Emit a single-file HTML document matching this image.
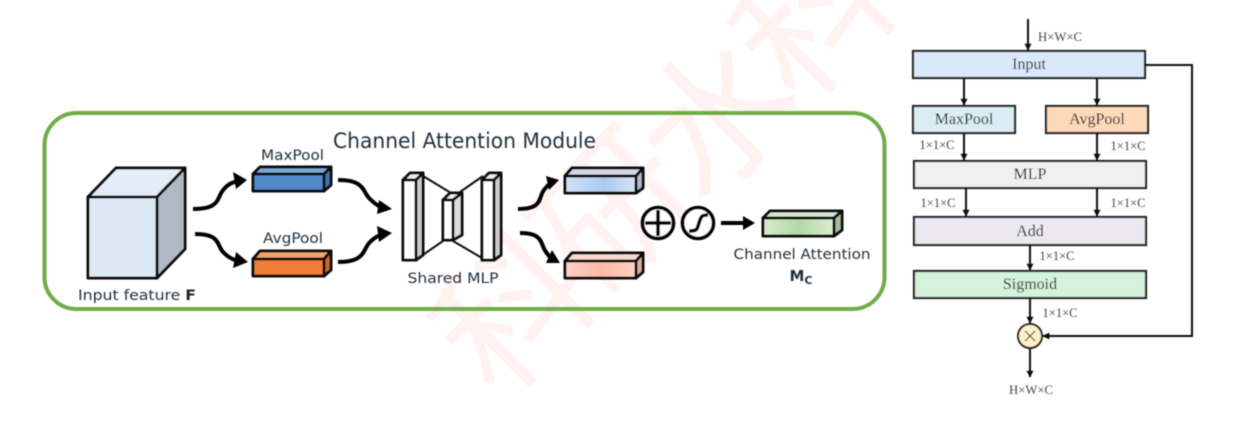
<!DOCTYPE html>
<html><head><meta charset="utf-8"><style>
html,body{margin:0;padding:0;background:#fff;width:1258px;height:448px;overflow:hidden}
svg{display:block;overflow:hidden}
.k{stroke:#0a0a0a;stroke-width:3;stroke-linejoin:round}
.t{font-family:"DejaVu Sans","Liberation Sans",sans-serif;fill:#23303c;text-anchor:middle}
.s{font-family:"Liberation Serif",serif;fill:#111;text-anchor:middle;font-size:16px}
.d{font-family:"Liberation Serif",serif;fill:#444;text-anchor:middle;font-size:12.5px}
.b{stroke:#222;stroke-width:2.2}
.a{stroke:#111;stroke-width:2;fill:none}
.c{fill:none;stroke:#000;stroke-width:4}
</style></head><body>
<svg width="1258" height="448" viewBox="0 0 1258 448" xmlns="http://www.w3.org/2000/svg">
<defs>
<linearGradient id="gb"><stop offset="0" stop-color="#d3e2f6"/><stop offset=".55" stop-color="#a9caf0"/><stop offset="1" stop-color="#d6e4f5"/></linearGradient>
<linearGradient id="gr"><stop offset="0" stop-color="#fbd3c6"/><stop offset=".5" stop-color="#ffb9a3"/><stop offset="1" stop-color="#fbd3c6"/></linearGradient>
<linearGradient id="gg"><stop offset="0" stop-color="#d9ebd0"/><stop offset=".5" stop-color="#b2d9a4"/><stop offset="1" stop-color="#dcecd4"/></linearGradient>
<filter id="bl" x="-5%" y="-5%" width="110%" height="110%"><feGaussianBlur stdDeviation="0.55"/></filter>
<marker id="ah" viewBox="0 0 10 10" refX="9" refY="5" markerWidth="7" markerHeight="7" orient="auto" markerUnits="userSpaceOnUse"><path d="M0 0L10 5L0 10Z" fill="#111"/></marker>
</defs>
<g font-family="'Noto Sans CJK SC',sans-serif" font-size="150" fill="#fff2f1" text-anchor="middle" filter="url(#bl)">
<text transform="translate(515 312) rotate(-45)" y="52">科</text>
<text transform="translate(614 213) rotate(-45)" y="52">研</text>
<text transform="translate(718 118) rotate(-45)" y="52">水</text>
<text transform="translate(815 18) rotate(-45)" y="52">科</text>
</g>
<g filter="url(#bl)">
<rect x="44.500" y="113" width="840" height="196" rx="32" fill="none" stroke="#70ad47" stroke-width="4"/>
<text class="t" x="464.500" y="148" font-size="21" textLength="263" lengthAdjust="spacingAndGlyphs">Channel Attention Module</text>

<polygon class="k" points="88,197 116,168 185,168 157,197" fill="#e4edf7"/>
<polygon class="k" points="157,197 185,168 185,249 157,278" fill="#afb9c4"/>
<rect class="k" x="88" y="197" width="69" height="81" fill="#dde8f5"/>
<text class="t" x="137" y="300" font-size="14.500" textLength="118" lengthAdjust="spacingAndGlyphs">Input feature <tspan font-weight="bold" fill="#222">F</tspan></text>

<polygon class="k" points="253,174 260,167 331,167 324,174" fill="#7aa7d8"/>
<polygon class="k" points="324,174 331,167 331,185 324,191" fill="#3f74ab"/>
<rect class="k" x="253" y="174" width="71" height="17" fill="#4f8ac6"/>
<text class="t" x="292.500" y="160" font-size="14.500" textLength="63" lengthAdjust="spacingAndGlyphs">MaxPool</text>

<polygon class="k" points="253,259 260,251 331,251 324,259" fill="#f4a36d"/>
<polygon class="k" points="324,259 331,251 331,270 324,276" fill="#c5692b"/>
<rect class="k" x="253" y="259" width="71" height="17" fill="#ee7d34"/>
<text class="t" x="293" y="243" font-size="14.500" textLength="60" lengthAdjust="spacingAndGlyphs">AvgPool</text>

<path class="c" d="M193 209C222 209 216 197 224 189C229 183 234 182 238 181"/><polygon points="247,180 233,172 236,189"/>
<path class="c" d="M195 234C222 234 216 246 224 253C229 258 234 260 238 261"/><polygon points="248,262 236,252 233,268"/>
<path class="c" d="M338 180C366 180 362 192 370 199C375 204 379 207 384 208"/><polygon points="392,209 379,200 377,214"/>
<path class="c" d="M338 262C366 262 362 250 370 242C375 237 379 235 384 234"/><polygon points="392,233 377,226 379,242"/>

<g stroke="#111" stroke-width="2" fill="none">
<path d="M423 176L451 193M460 192L483 176M417 259L443 241M453 241L482 258"/>
</g>
<polygon class="k" points="403,180 410,173 423,173 416,180" fill="#eee"/>
<polygon class="k" points="416,180 423,173 423,255 416,260" fill="#ccc"/>
<rect class="k" x="403" y="180" width="13" height="80" fill="#fff"/>
<polygon class="k" points="443,200 450,193 462,193 453,200" fill="#eee"/>
<polygon class="k" points="453,200 462,193 462,235 453,240" fill="#ddd"/>
<rect class="k" x="443" y="200" width="10" height="40" fill="#fff"/>
<polygon class="k" points="482,180 489,173 501,173 494,180" fill="#eee"/>
<polygon class="k" points="494,180 501,173 501,255 494,260" fill="#ccc"/>
<rect class="k" x="482" y="180" width="12" height="80" fill="#fff"/>
<text class="t" x="453" y="283" font-size="14.500" textLength="91" lengthAdjust="spacingAndGlyphs">Shared MLP</text>

<path class="c" d="M518 209C544 209 538 197 544 190C547 186 549 184 551 183"/><polygon points="559,180 546,176 549,190"/>
<path class="c" d="M520 233C544 233 540 244 546 252C549 256 550 258 552 259"/><polygon points="560,263 552,250 546,263"/>

<polygon class="k" points="565,176 572,168 643,168 636,176" fill="#d5d8ea"/>
<polygon class="k" points="636,176 643,168 643,188 636,193" fill="#b5b8cf"/>
<rect class="k" x="565" y="176" width="71" height="17" fill="url(#gb)"/>
<polygon class="k" points="565,261 572,253 643,253 636,261" fill="#fbd8cd"/>
<polygon class="k" points="636,261 643,253 643,272 636,278" fill="#d9aea0"/>
<rect class="k" x="565" y="261" width="71" height="17" fill="url(#gr)"/>

<circle cx="658" cy="223" r="15.500" fill="#fff" stroke="#000" stroke-width="3.600"/>
<path d="M645 223H671M658 210V236" stroke="#000" stroke-width="3.600" fill="none"/>
<circle cx="698" cy="223" r="15.500" fill="#fff" stroke="#000" stroke-width="3.600"/>
<path d="M689 231C698 231 697 229 699 223C701 216 702 215 708 215" stroke="#000" stroke-width="3.600" fill="none"/>
<path d="M721 223H745" stroke="#000" stroke-width="4"/><polygon points="755,223 743,216 743,230"/>

<polygon class="k" points="763,218 770,211 842,211 834,218" fill="#d5e8cc"/>
<polygon class="k" points="834,218 842,211 842,230 834,236" fill="#a3bd98"/>
<rect class="k" x="763" y="218" width="71" height="18" fill="url(#gg)"/>
<text class="t" x="802" y="259" font-size="14.500" textLength="137" lengthAdjust="spacingAndGlyphs">Channel Attention</text>
<text class="t" x="801" y="281" font-size="15" font-weight="bold" fill="#222">M<tspan font-size="11" dy="3">C</tspan></text>

<rect class="b" x="913" y="51" width="232" height="27" fill="#dae8fc"/>
<rect class="b" x="913" y="106" width="102" height="27" fill="#d9edf3"/>
<rect class="b" x="1046" y="106" width="102" height="27" fill="#fdd9ba"/>
<rect class="b" x="914" y="161" width="232" height="27" fill="#f0f0f0"/>
<rect class="b" x="914" y="217" width="232" height="28" fill="#ebe8f2"/>
<rect class="b" x="914" y="271" width="232" height="27" fill="#d5f2dc"/>
<text class="s" x="1029" y="69">Input</text>
<text class="s" x="964" y="124">MaxPool</text>
<text class="s" x="1097" y="124">AvgPool</text>
<text class="s" x="1030" y="179">MLP</text>
<text class="s" x="1030" y="236">Add</text>
<text class="s" x="1030" y="289">Sigmoid</text>

<path class="a" marker-end="url(#ah)" d="M1028 19V50"/>
<path class="a" marker-end="url(#ah)" d="M964 78V105"/>
<path class="a" marker-end="url(#ah)" d="M1097 78V105"/>
<path class="a" marker-end="url(#ah)" d="M964 133V160"/>
<path class="a" marker-end="url(#ah)" d="M1097 133V160"/>
<path class="a" marker-end="url(#ah)" d="M966 188V216"/>
<path class="a" marker-end="url(#ah)" d="M1097 188V216"/>
<path class="a" marker-end="url(#ah)" d="M1030 245V270"/>
<path class="a" marker-end="url(#ah)" d="M1030 298V323"/>
<path class="a" marker-end="url(#ah)" d="M1030 348V377"/>
<path class="a" marker-end="url(#ah)" d="M1145 65H1192V336H1043"/>
<circle cx="1030" cy="336" r="12" fill="#fff0c8" stroke="#222" stroke-width="2"/>
<path d="M1025 331L1035 341M1035 331L1025 341" stroke="#444" stroke-width="1.200"/>

<text class="d" x="1060" y="41" textLength="44" lengthAdjust="spacingAndGlyphs">H×W×C</text>
<text class="d" x="937" y="149" textLength="35" lengthAdjust="spacingAndGlyphs">1×1×C</text>
<text class="d" x="1128" y="150" textLength="35" lengthAdjust="spacingAndGlyphs">1×1×C</text>
<text class="d" x="938" y="207" textLength="35" lengthAdjust="spacingAndGlyphs">1×1×C</text>
<text class="d" x="1128" y="207" textLength="35" lengthAdjust="spacingAndGlyphs">1×1×C</text>
<text class="d" x="1057" y="260" textLength="35" lengthAdjust="spacingAndGlyphs">1×1×C</text>
<text class="d" x="1060" y="317" textLength="35" lengthAdjust="spacingAndGlyphs">1×1×C</text>
<text class="d" x="1031" y="394" textLength="44" lengthAdjust="spacingAndGlyphs">H×W×C</text>
</g>
</svg>
</body></html>
